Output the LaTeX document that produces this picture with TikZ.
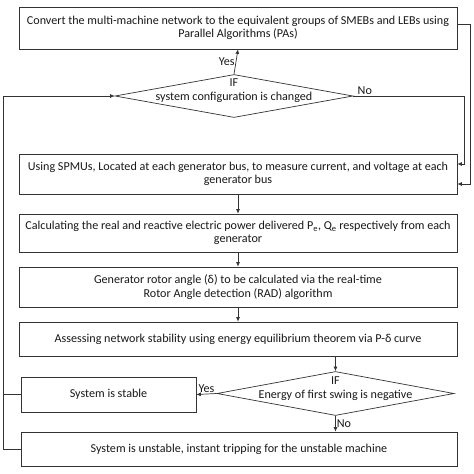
\documentclass[tikz,border=0pt]{standalone}
\usepackage{fontspec}
\setmainfont{Carlito}
\usetikzlibrary{shapes.geometric,arrows.meta,calc}
\begin{document}
\begin{tikzpicture}[x=1pt,y=-1pt,
  box/.style={draw=black!80,line width=0.7pt,rectangle,minimum width=438pt,inner sep=0pt,align=center,font=\fontsize{12.1}{13.4}\selectfont,text=black!90},
  dec/.style={draw=black!80,line width=0.7pt,diamond,inner sep=0pt,font=\fontsize{12.1}{13.4}\selectfont,text=black!90},
  conn/.style={draw=black!80,line width=0.7pt},
  arr/.style={conn,-{Latex[length=4.5pt,width=4pt]}},
  lbl/.style={font=\fontsize{12.1}{13.4}\selectfont,text=black!90,inner sep=1pt}]
\useasboundingbox[fill=white] (0,0) rectangle (474,474);
\node[box,minimum height=42pt] (b1) at (238,28) {Convert the multi-machine network to the equivalent groups of SMEBs and LEBs using\\Parallel Algorithms (PAs)};
\node[dec,minimum width=238pt,minimum height=43pt] (d1) at (234,96) {\makebox[0pt]{\raisebox{2pt}[0pt][0pt]{\begin{tabular}{@{}c@{}}IF\\system configuration is changed\end{tabular}}}};
\node[box,minimum height=40pt] (b2) at (238,174) {Using SPMUs, Located at each generator bus, to measure current, and voltage at each\\generator bus};
\node[box,minimum height=38pt] (b3) at (238,233) {Calculating the real and reactive electric power delivered P\textsubscript{e}, Q\textsubscript{e} respectively from each\\generator};
\node[box,minimum height=40pt] (b4) at (238,287) {Generator rotor angle (δ) to be calculated via the real-time\\Rotor Angle detection (RAD) algorithm};
\node[box,minimum height=34pt] (b5) at (238,339) {Assessing network stability using energy equilibrium theorem via P-δ curve};
\node[dec,minimum width=237pt,minimum height=44pt] (d2) at (335.5,393.5) {\makebox[0pt]{\raisebox{1.5pt}[0pt][0pt]{\begin{tabular}{@{}c@{}}IF\\Energy of first swing is negative\end{tabular}}}};
\node[box,minimum width=175pt,minimum height=35pt] (st) at (108.5,394.5) {System is stable};
\node[box,minimum width=436pt,minimum height=34pt] (un) at (239,449) {System is unstable, instant tripping for the unstable machine};
\coordinate (L) at (3,96);
% connectors
\draw[arr] (d1.north) -- (b1.south) node[lbl,midway,left] {Yes};
\draw[arr] (d1.east) node[lbl,anchor=south west,xshift=3pt] {No} -- ++(111,0) |- ([yshift=10pt]b2.east);
\draw[arr] ([yshift=4pt]b1.east) -- ++(13,0) |- ([yshift=-10pt]b2.east);
\draw[arr] (b2.south) -- (b3.north);
\draw[arr] (b3.south) -- (b4.north);
\draw[arr] (b4.south) -- (b5.north);
\draw[arr] (b5.south -| d2.north) -- (d2.north);
\draw[arr] (d2.west) -- (st.east) node[lbl,midway,above] {Yes};
\draw[arr] (d2.south) -- (d2.south |- un.north) node[lbl,midway,right] {No};
\draw[arr] (un.west) -| (L) -- (d1.west);
\draw[conn] (st.west) -- (st.west -| L);
\end{tikzpicture}
\end{document}
